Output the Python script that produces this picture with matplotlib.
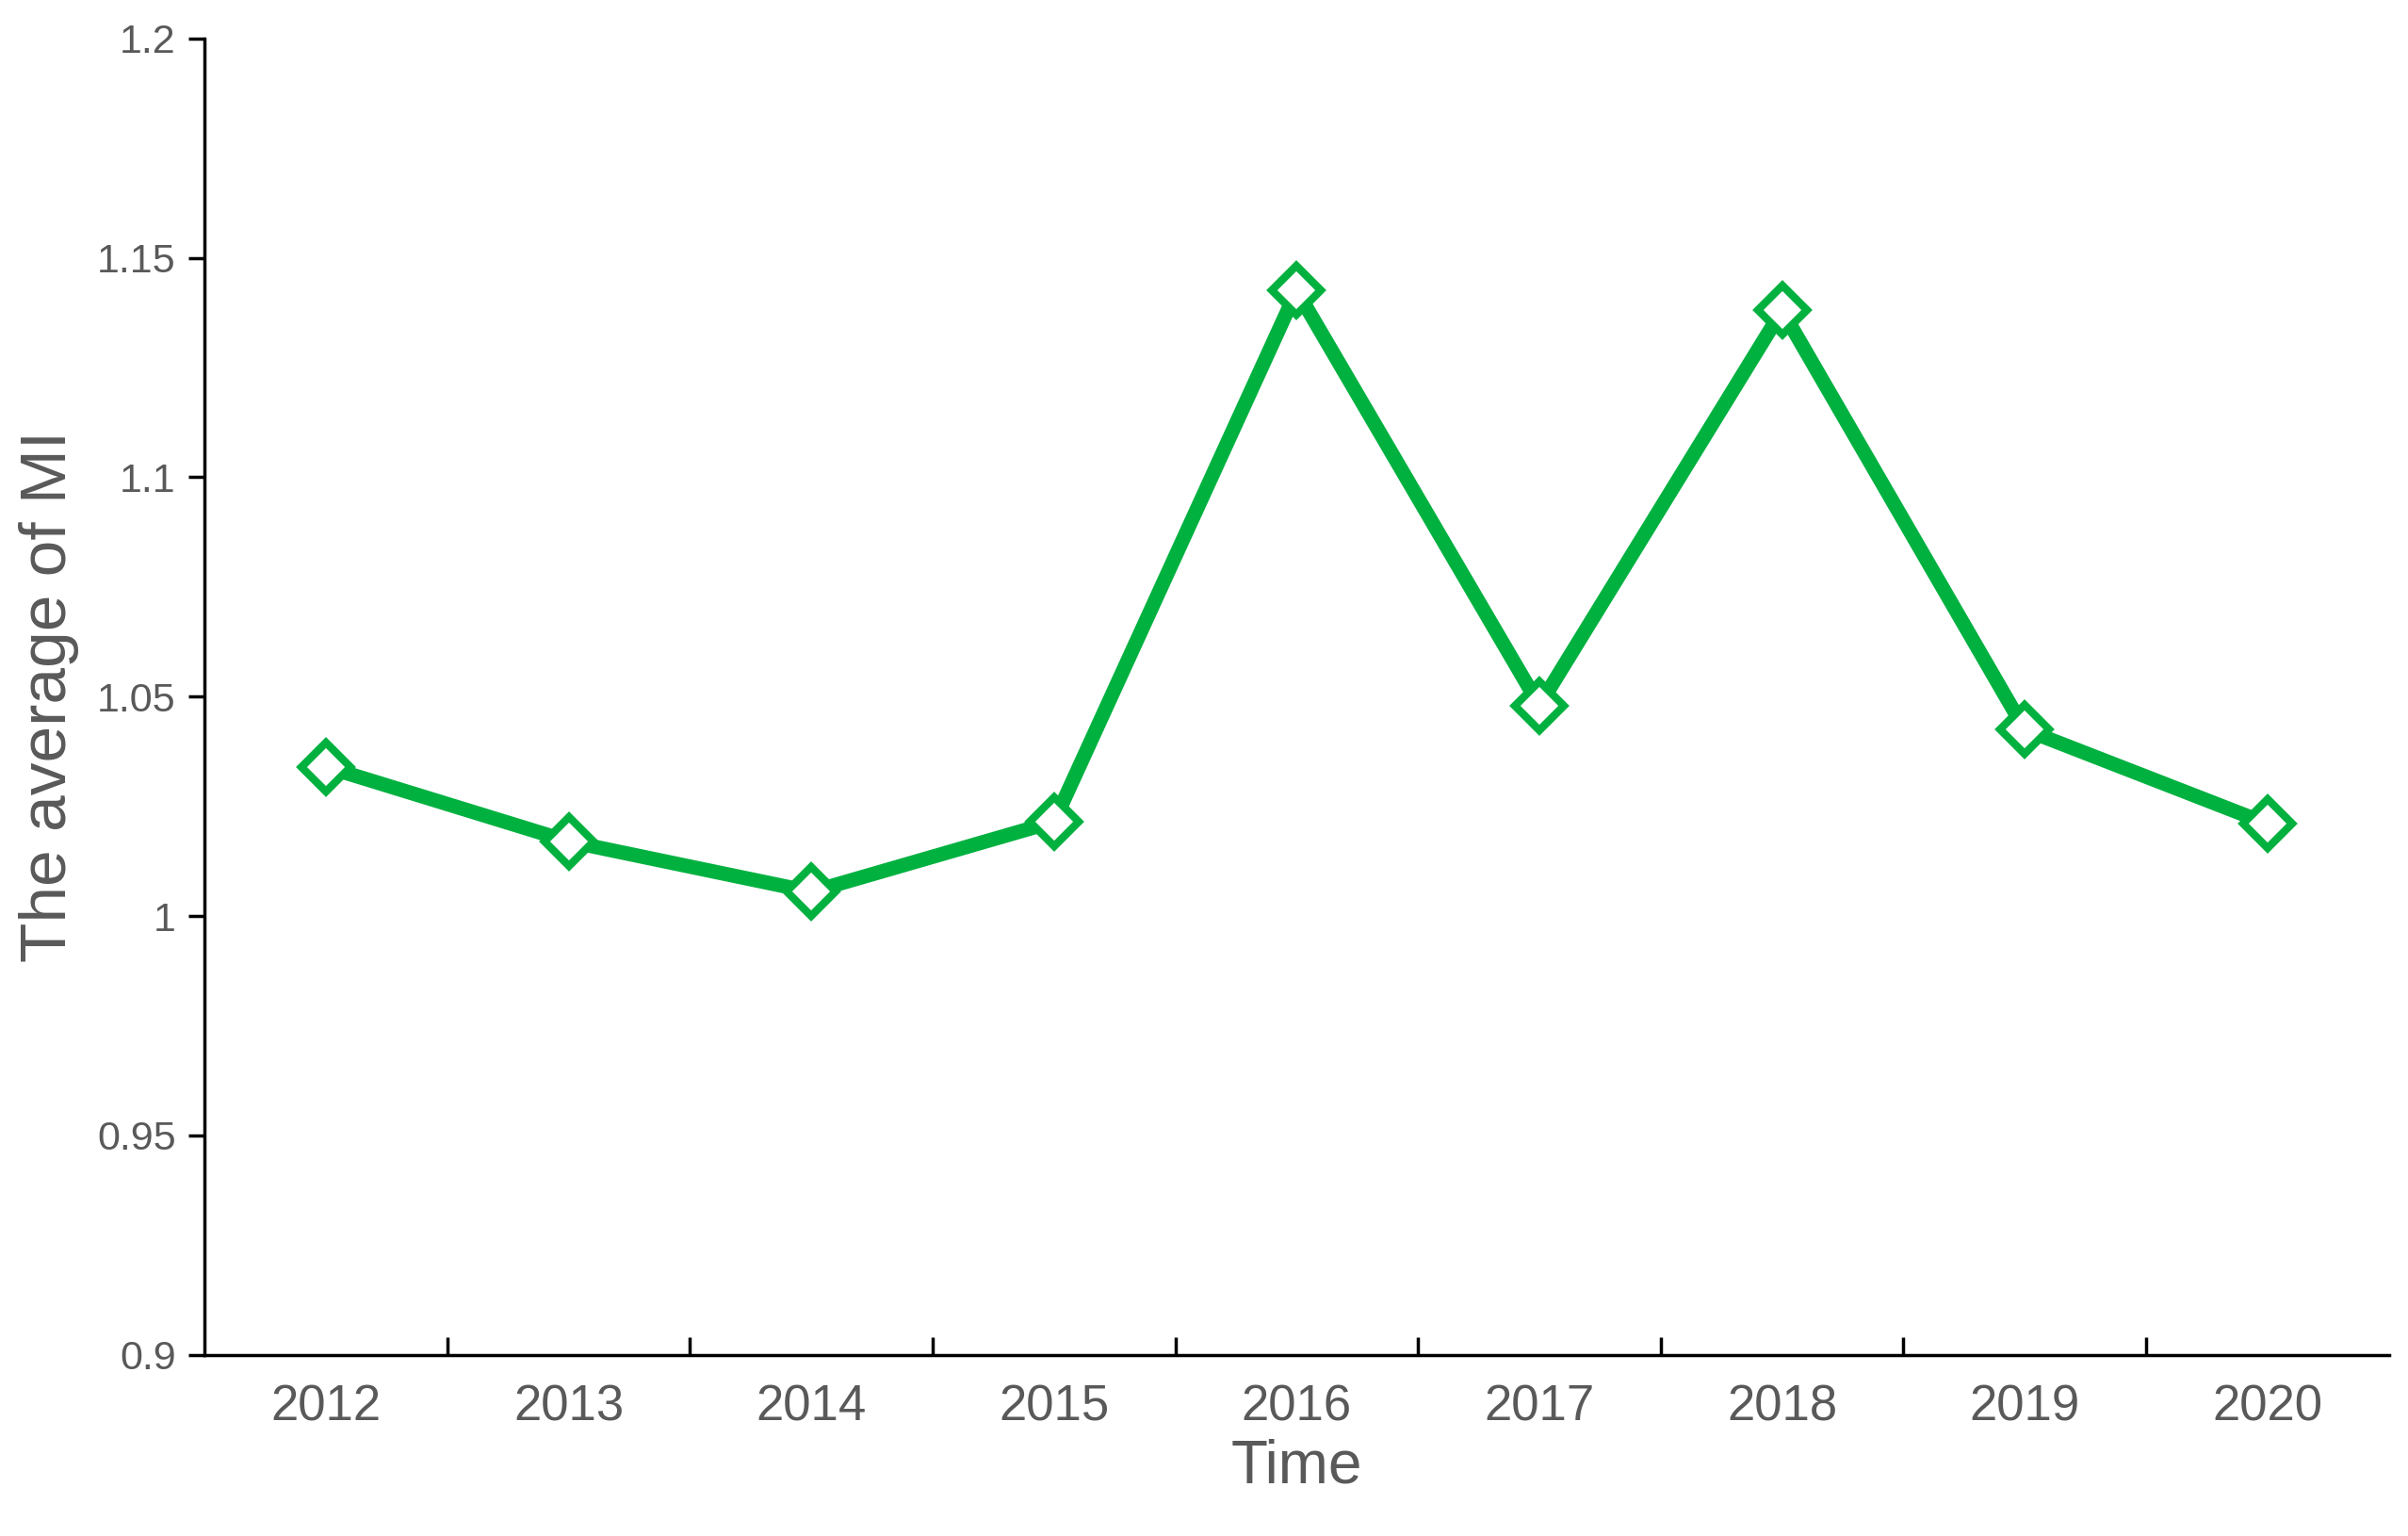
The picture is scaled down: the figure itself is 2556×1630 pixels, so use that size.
import matplotlib.pyplot as plt

plt.rcParams["font.family"] = ["Liberation Sans", "DejaVu Sans"]

years = ["2012", "2013", "2014", "2015", "2016", "2017", "2018", "2019", "2020"]
mi_avg = [1.034, 1.017, 1.0055, 1.0215, 1.1425, 1.048, 1.138, 1.0425, 1.021]
y_ticks = [0.9, 0.95, 1, 1.05, 1.1, 1.15, 1.2]
y_tick_labels = ["0.9", "0.95", "1", "1.05", "1.1", "1.15", "1.2"]

green = "#00B140"
grey = "#595959"

fig = plt.figure(figsize=(25.56, 16.3), dpi=100)
ax = fig.add_axes([0.085, 0.118, 0.907, 0.857])

x = list(range(len(years)))
ax.plot(x, mi_avg, color=green, linewidth=11, marker="D", markersize=26,
        markerfacecolor="white", markeredgecolor=green, markeredgewidth=6)

ax.set_xlim(-0.5, len(years) - 0.5)
ax.set_ylim(0.9, 1.2)
ax.set_yticks(y_ticks)
ax.set_yticklabels(y_tick_labels)
ax.set_xticks(x)
ax.set_xticklabels(years)
ax.tick_params(axis="x", length=0, labelsize=38, colors=grey, pad=22)
ax.set_xticks([i + 0.5 for i in x[:-1]], minor=True)
ax.tick_params(axis="x", which="minor", direction="in", length=14, width=2.5, color="black")
ax.tick_params(axis="y", direction="out", length=12, width=2.5, labelsize=31,
               labelcolor=grey, color="black", pad=10)

for side in ["top", "right"]:
    ax.spines[side].set_visible(False)
for side in ["left", "bottom"]:
    ax.spines[side].set_linewidth(2.5)

ax.set_xlabel("Time", fontsize=46, color=grey, labelpad=6)
ax.set_ylabel("The average of MI", fontsize=50, color=grey, labelpad=14)

fig.savefig("out.png", dpi=100)
